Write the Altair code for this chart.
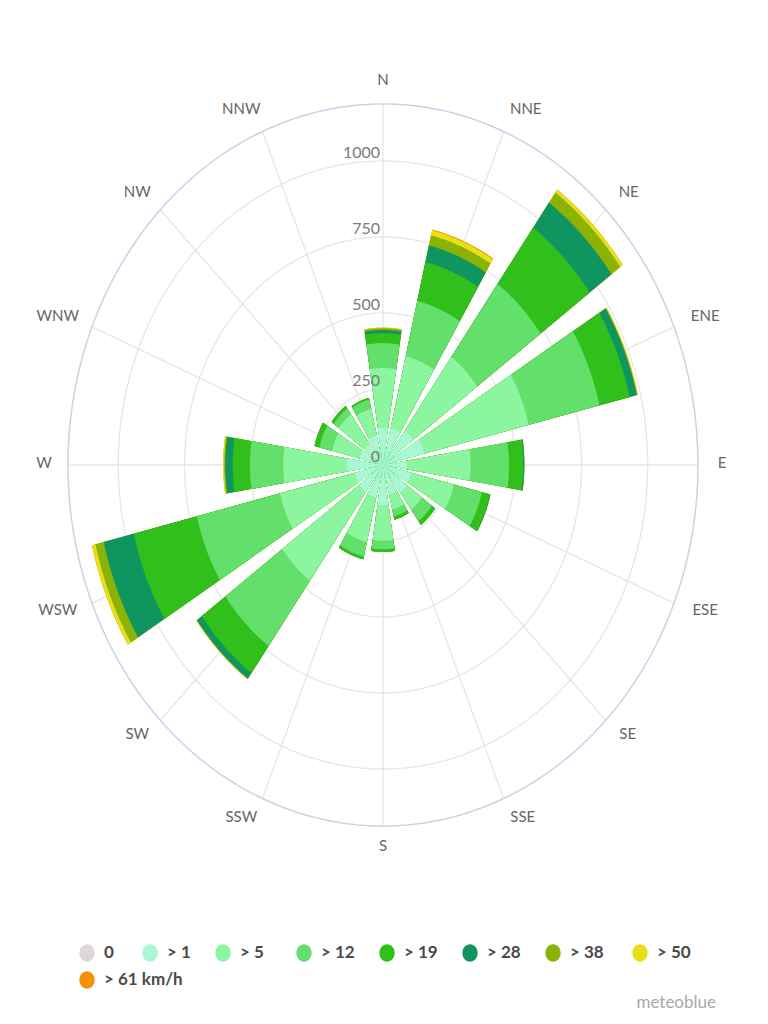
import math

import altair as alt
import pandas as pd

directions = ["N", "NNE", "NE", "ENE", "E", "ESE", "SE", "SSE",
              "S", "SSW", "SW", "WSW", "W", "WNW", "NW", "NNW"]

# outer edge of each speed class per direction (stacked hours)
top_calm = [8, 8, 8, 8, 8, 8, 8, 8, 8, 8, 8, 8, 8, 8, 8, 8]
top_gt1 = [122, 125, 140, 160, 89, 109, 113, 100, 132, 110, 110, 110, 137, 90, 86, 100]
top_gt5 = [319, 368, 439, 566, 331, 275, 181, 151, 249, 261, 470, 400, 377, 198, 206, 190]
top_gt12 = [401, 555, 736, 841, 476, 384, 228, 174, 277, 310, 736, 723, 503, 247, 230, 221]
top_gt19 = [434, 687, 965, 958, 530, 415, 243, 185, 286, 319, 846, 968, 568, 266, 240, 227]
top_gt28 = [444, 743, 1067, 986, 534, 417, 243, 185, 286, 319, 868, 1085, 596, 266, 240, 227]
top_gt38 = [450, 777, 1108, 988, 534, 417, 243, 185, 286, 319, 870, 1117, 600, 266, 240, 227]
top_gt50 = [452, 794, 1119, 991, 534, 417, 243, 185, 286, 319, 871, 1130, 604, 266, 240, 227]
top_gt61 = [452, 797, 1120, 991, 534, 417, 243, 185, 286, 319, 871, 1131, 604, 266, 240, 227]

speed_labels = ["0", "> 1", "> 5", "> 12", "> 19", "> 28", "> 38", "> 50", "> 61 km/h"]
speed_colors = ["#dcd8d8", "#a8f7d5", "#8cf59f", "#63df6c", "#31bf1c",
                "#0f9660", "#8bb305", "#e8e017", "#f39200"]
speed_tops = [top_calm, top_gt1, top_gt5, top_gt12, top_gt19,
              top_gt28, top_gt38, top_gt50, top_gt61]

ring_values = [250, 500, 750, 1000]
R_X = 1190
R_Y = 1187.5
PX_X = 630 / (2 * R_X)
PX_Y = 722 / (2 * R_Y)
HALF_WIDTH = 9

label_nudge = [0, 13, 6, 9, 0, 9, 5, 10, 0, -12, -6, -12, 0, -12, -6, -12]


def polar(r, deg):
    a = math.radians(deg)
    return r * math.sin(a), r * math.cos(a)


# wedges from the centre, biggest class first so the smaller ones sit on top
rows = []
for c in range(len(speed_labels) - 1, -1, -1):
    for d, name in enumerate(directions):
        centre = d * 22.5
        seg = f"{name}-{c}"
        rows.append({"seg": seg, "i": 0, "x": 0, "y": 0, "color": speed_colors[c]})
        for k in range(37):
            x, y = polar(speed_tops[c][d], centre - HALF_WIDTH + k * 0.5)
            rows.append({"seg": seg, "i": k + 1, "x": x, "y": y, "color": speed_colors[c]})
wedges = pd.DataFrame(rows)

ring_rows = []
for r in ring_values + [R_X]:
    for k in range(241):
        x = r * math.sin(math.radians(k * 1.5))
        y = (r if r != R_X else R_Y) * math.cos(math.radians(k * 1.5))
        ring_rows.append({"ring": r, "i": k, "x": x, "y": y, "outer": r == R_X})
rings = pd.DataFrame(ring_rows)

spoke_rows = []
for d, name in enumerate(directions):
    x, y = polar(1, d * 22.5)
    spoke_rows.append({"x": 0, "y": 0, "x2": x * R_X, "y2": y * R_Y})
spokes = pd.DataFrame(spoke_rows)

dir_labels = pd.DataFrame({
    "name": directions,
    "x": [(339 * math.sin(math.radians(d * 22.5)) + label_nudge[d]) / PX_X for d in range(16)],
    "y": [383 * math.cos(math.radians(d * 22.5)) / PX_Y for d in range(16)],
})

tick_labels = pd.DataFrame({"r": [0] + ring_values, "label": ["0", "250", "500", "750", "1000"]})

x_scale = alt.Scale(domain=[-R_X, R_X])
y_scale = alt.Scale(domain=[-R_Y, R_Y])
x_enc = alt.X("x:Q", scale=x_scale, axis=None)
y_enc = alt.Y("y:Q", scale=y_scale, axis=None)

FONT = "Lato"

grid = (
    alt.Chart(rings[~rings["outer"]])
    .mark_line(stroke="#e6e6e6", strokeWidth=1.3)
    .encode(x=x_enc, y=y_enc, detail="ring:N", order="i:Q")
)
outline = (
    alt.Chart(rings[rings["outer"]])
    .mark_line(stroke="#c6d4e8", strokeWidth=1.5)
    .encode(x=x_enc, y=y_enc, order="i:Q")
)
spoke_lines = (
    alt.Chart(spokes)
    .mark_rule(stroke="#e6e6e6", strokeWidth=1.3)
    .encode(x=x_enc, y=y_enc, x2="x2:Q", y2="y2:Q")
)
wedge_marks = (
    alt.Chart(wedges)
    .mark_line(strokeWidth=0, interpolate="linear")
    .encode(
        x=x_enc,
        y=y_enc,
        fill=alt.Fill("color:N", scale=None),
        detail="seg:N",
        order="i:Q",
    )
)
tick_text = (
    alt.Chart(tick_labels)
    .mark_text(font=FONT, fontSize=16, color="#7a7a7a", align="right", dx=-3, dy=-8)
    .encode(
        x=alt.value(315),
        y=alt.Y("r:Q", scale=y_scale, axis=None),
        text="label:N",
    )
)
dir_text = (
    alt.Chart(dir_labels)
    .mark_text(font=FONT, fontSize=15, color="#666666", dy=-2)
    .encode(x=x_enc, y=y_enc, text="name:N")
)

legend_x = [19, 82, 155, 236, 319, 402, 485, 572, 19]
legend_y = [849, 849, 849, 849, 849, 849, 849, 849, 876]
legend = pd.DataFrame({
    "label": speed_labels,
    "color": speed_colors,
    "px": legend_x,
    "py": legend_y,
})
# the page is stretched, so the legend dots are slightly tall ellipses
dot_path = "M0,-1 A0.88,1 0 1,1 0,1 A0.88,1 0 1,1 0,-1 Z"
legend_dots = (
    alt.Chart(legend)
    .mark_point(shape=dot_path, filled=True, size=303, opacity=1)
    .encode(
        x=alt.X("px:Q", scale=None, axis=None),
        y=alt.Y("py:Q", scale=None, axis=None),
        fill=alt.Fill("color:N", scale=None),
    )
)
legend_text = (
    alt.Chart(legend)
    .mark_text(font=FONT, fontSize=17, fontWeight="bold", color="#4a4a4a", align="left", dx=17)
    .encode(
        x=alt.X("px:Q", scale=None, axis=None),
        y=alt.Y("py:Q", scale=None, axis=None),
        text="label:N",
    )
)
credit = (
    alt.Chart(pd.DataFrame({"label": ["meteoblue"], "px": [648], "py": [899]}))
    .mark_text(font=FONT, fontSize=17, color="#a8a8a8", align="right")
    .encode(
        x=alt.X("px:Q", scale=None, axis=None),
        y=alt.Y("py:Q", scale=None, axis=None),
        text="label:N",
    )
)

chart = (
    alt.layer(
        grid, spoke_lines, outline, wedge_marks, tick_text, dir_text,
        legend_dots, legend_text, credit,
    )
    .properties(
        width=630,
        height=722,
        autosize="none",
        padding={"left": 60, "top": 96, "right": 60, "bottom": 190},
    )
    .configure_view(stroke=None)
)

chart.save("out.html", embed_options={"renderer": "svg", "actions": False})
